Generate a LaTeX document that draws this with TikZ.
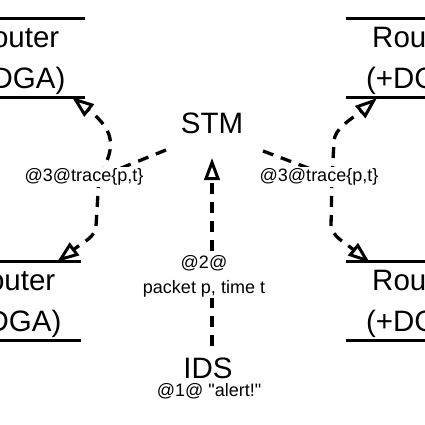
\documentclass[tikz,border=0pt]{standalone}
\usepackage{fontspec}
\setmainfont{Liberation Sans}[Ligatures=TeXOff]
\usetikzlibrary{arrows.meta}
\pgfdeclarelayer{bg}
\pgfsetlayers{bg,main}
\tikzset{
  big/.style={font=\fontsize{29.5}{41}\selectfont, inner sep=0pt, align=center},
  lab/.style={font=\fontsize{18}{25}\selectfont, fill=white, inner sep=1.5pt, align=center},
  store/.style={big, minimum width=140pt, minimum height=78pt},
  rule/.style={line width=3.3pt},
  dashline/.style={line width=3.3pt, dash pattern=on 11pt off 8pt},
  conn/.style={dashline, -{Triangle[open, length=22pt, width=15.5pt, line width=3pt]}},
}
\begin{document}
\begin{tikzpicture}[x=1pt,y=-1pt]
  \useasboundingbox (0,0) rectangle (425,425);
  \clip (0,0) rectangle (425,425);
  % routers (text box centred 2.5px below the middle of its two rules)
  \node[store] (rtl) at (15,60.5) {Router\\(+DGA)};
  \node[store] (rtr) at (416.5,60.5) {Router\\(+DGA)};
  \node[store] (rbl) at (11,303.5) {Router\\(+DGA)};
  \node[store] (rbr) at (416.5,303.5) {Router\\(+DGA)};
  \foreach \r in {rtl,rtr,rbl,rbr} {
    \draw[rule] ([yshift=2.5pt]\r.north west) -- ([yshift=2.5pt]\r.north east);
    \draw[rule] ([yshift=2.5pt]\r.south west) -- ([yshift=2.5pt]\r.south east);
  }
  % main nodes
  \node[big] (stm) at (212,123) {STM};
  \node[big] (ids) at (208,368) {IDS};
  \node[lab, fill=none, anchor=north, inner sep=0pt] (alert) at (209,383) {@1@ "alert!"};
  % connector points
  \coordinate (sL) at (166,150);
  \coordinate (jL) at (99,177);
  \coordinate (bL) at (96,226);
  \coordinate (tTL) at (72,97);
  \coordinate (tBL) at (57,262);
  \coordinate (sR) at (263,151);
  \coordinate (jR) at (332,177);
  \coordinate (aR) at (334,142);
  \coordinate (bR) at (331,226);
  \coordinate (tTR) at (377,98);
  \coordinate (tBR) at (370,263);
  \coordinate (idsTop) at (212,346);
  \coordinate (stmBot) at (212,158);
  \begin{pgfonlayer}{bg}
    \draw[dashline] (sL) -- (jL);
    \draw[conn] (jL) .. controls (114,150) and (118,133) .. (tTL);
    \draw[conn] (jL) -- (bL) .. controls (95,237) and (85,241) .. (tBL);
    \draw[dashline] (sR) -- (jR);
    \draw[conn] (jR) -- (aR) .. controls (334,128) and (352,119) .. (tTR);
    \draw[conn] (jR) -- (bR) .. controls (333,237) and (344,242) .. (tBR);
    \draw[conn] (idsTop) -- (stmBot);
  \end{pgfonlayer}
  % labels
  \node[lab] (l3L) at (84,177) {@3@trace\{p,t\}};
  \node[lab] (l3R) at (319,177) {@3@trace\{p,t\}};
  \node[lab] (l2) at (204,276) {@2@\\packet p, time t};
\end{tikzpicture}
\end{document}
